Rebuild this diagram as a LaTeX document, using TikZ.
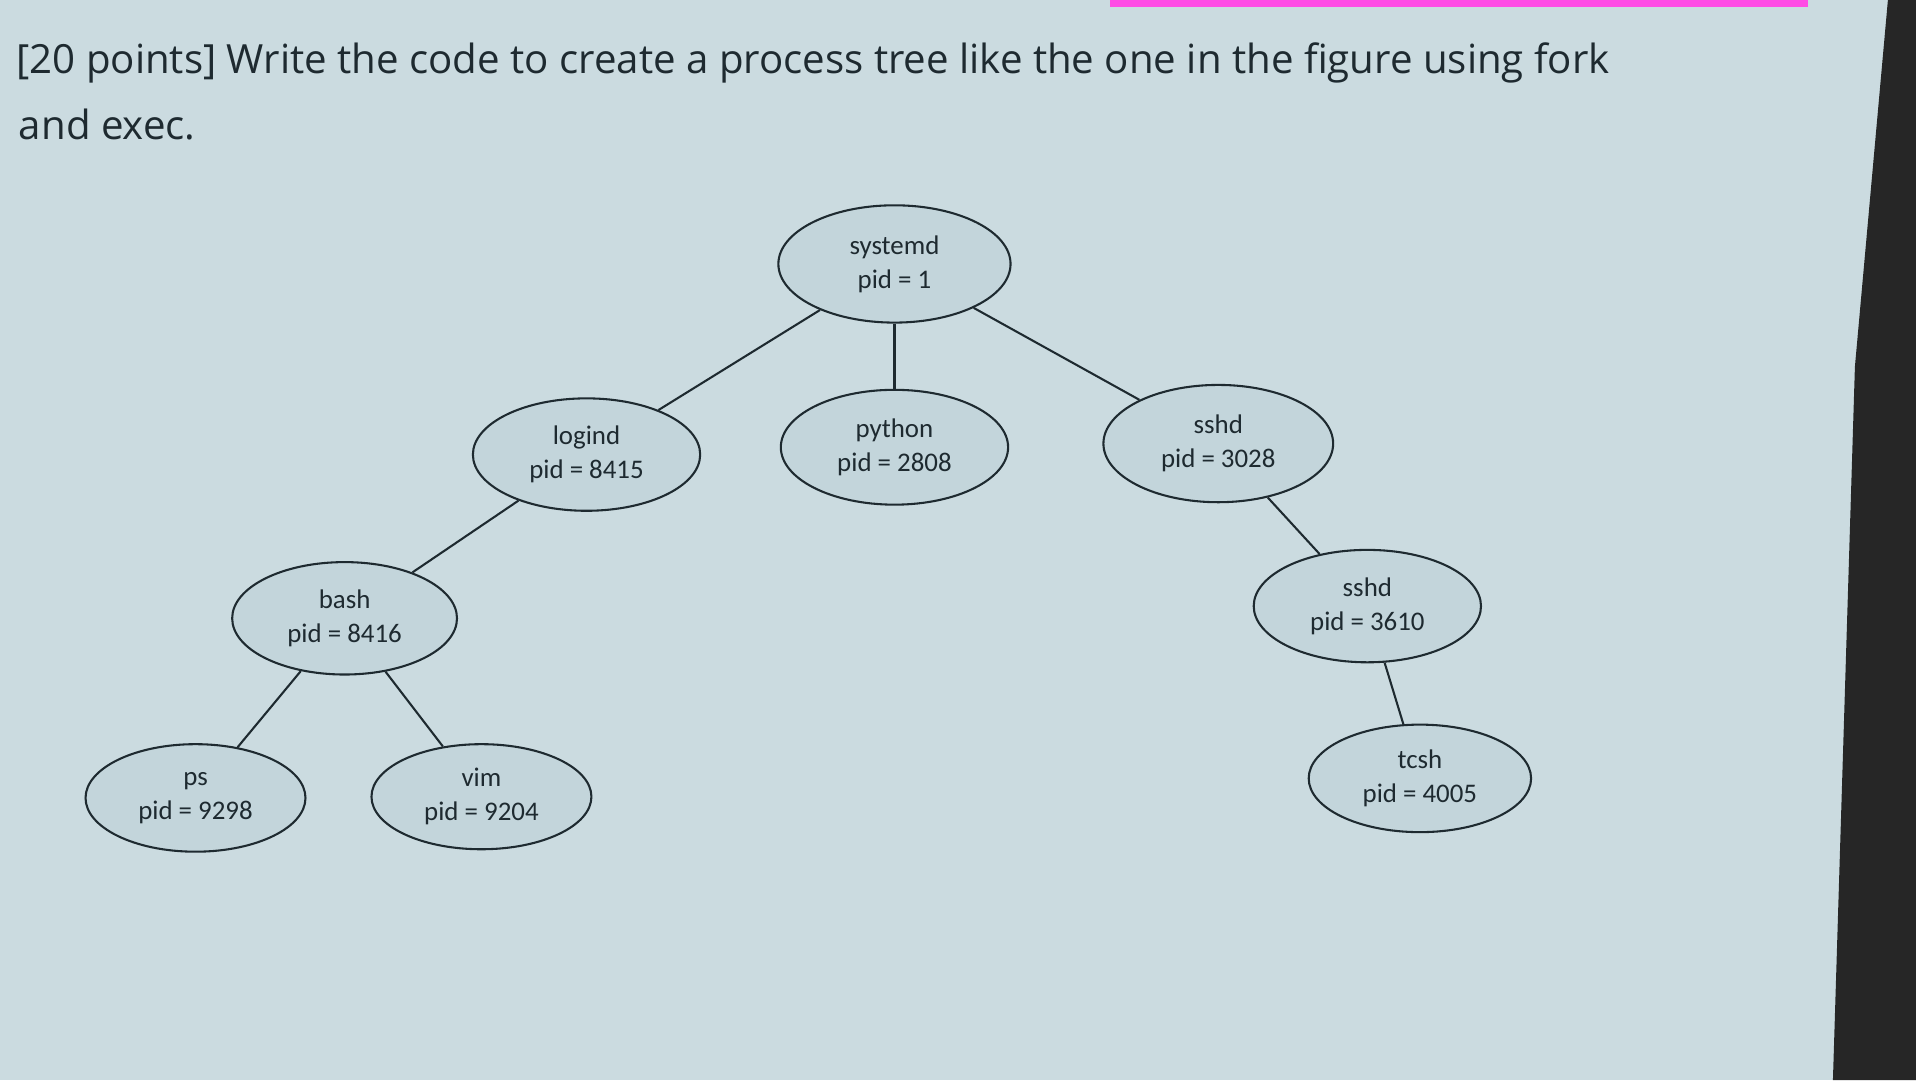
\documentclass[tikz,border=0pt]{standalone}
\usepackage{fontspec}
\setmainfont{Carlito}
\newfontfamily\titlefont{Open Sans}
\usetikzlibrary{shapes.geometric}
\definecolor{bg}{HTML}{CBDBE0}
\definecolor{nodefill}{HTML}{C3D5DB}
\definecolor{ink}{HTML}{1E2A30}
\tikzset{
  proc/.style={ellipse, draw=ink, line width=1.7pt, fill=nodefill, inner sep=0pt, align=center, font=\fontsize{22}{28}\selectfont, text=ink},
  link/.style={draw=ink, line width=1.7pt}
}
\begin{document}
\begin{tikzpicture}[x=1pt,y=-1pt]
\fill[bg] (0,0) rectangle (1568,884);
\useasboundingbox (0,0) rectangle (1568,884);
\fill[pink!40!magenta] (908,0) rectangle (1480,6);
\fill[black!85] (1500,884) -- (1518,300) -- (1545,0) -- (1568,0) -- (1568,884) -- cycle;
\node[anchor=base west, font=\titlefont\fontsize{32.9}{40}\selectfont, text=ink] (t1) at (10,60) {[20 points] Write the code to create a process tree like the one in the figure using fork};
\node[anchor=base west, font=\titlefont\fontsize{32.9}{40}\selectfont, text=ink] (t2) at (12,114) {and exec.};
\node[proc, minimum width=190, minimum height=96] (sys) at (732,216) {systemd\\pid = 1};
\node[proc, minimum width=186, minimum height=92] (log) at (480,372) {logind\\pid = 8415};
\node[proc, minimum width=186, minimum height=94] (py) at (732,366) {python\\pid = 2808};
\node[proc, minimum width=188, minimum height=96] (ss1) at (997,363) {sshd\\pid = 3028};
\node[proc, minimum width=184, minimum height=92] (bash) at (282,506) {bash\\pid = 8416};
\node[proc, minimum width=186, minimum height=92] (ss2) at (1119,496) {sshd\\pid = 3610};
\node[proc, minimum width=180, minimum height=88] (ps) at (160,653) {ps\\pid = 9298};
\node[proc, minimum width=180, minimum height=86] (vim) at (394,652) {vim\\pid = 9204};
\node[proc, minimum width=182, minimum height=88] (tcsh) at (1162,637) {tcsh\\pid = 4005};
\draw[link] (sys) -- (log);
\draw[link] (sys) -- (py);
\draw[link] (sys) -- (ss1);
\draw[link] (log) -- (bash);
\draw[link] (bash) -- (ps);
\draw[link] (bash) -- (vim);
\draw[link] (ss1) -- (ss2);
\draw[link] (ss2) -- (tcsh);
\end{tikzpicture}
\end{document}
